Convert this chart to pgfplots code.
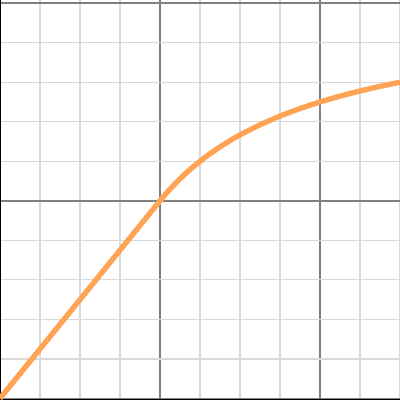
\documentclass[border=0pt]{standalone}
\usepackage{pgfplots}
\pgfplotsset{compat=1.18}
\definecolor{curve}{RGB}{255,163,84}
\begin{document}
\begin{tikzpicture}
\begin{axis}[
  scale only axis, width=10cm, height=10cm,
  xmin=-4, xmax=6, ymin=-5.04, ymax=5.08,
  axis x line*=bottom, axis y line*=left,
  axis line style={-, black, line width=1.4pt},
  xtick={-4,0,4}, minor xtick={-3,-2,-1,1,2,3,5,6},
  ytick={-5,0,5}, minor ytick={-4,-3,-2,-1,1,2,3,4},
  xticklabels={}, yticklabels={},
  tick label style={overlay},
  major tick length=0pt, minor tick length=0pt,
  grid=both,
  major grid style={color=black!50, line width=1.1pt},
  minor grid style={color=black!15, line width=0.9pt},
  clip=true,
]
\addplot[curve, line width=3.8pt, smooth, tension=0.3] coordinates {
(-4,-5) (-2,-2.5) (0,0) (0.25,0.2941) (0.5,0.5556) (0.75,0.7895) (1,1)
(1.25,1.1905) (1.5,1.3636) (1.75,1.5217) (2,1.6667) (2.5,1.9231) (3,2.1429)
(3.5,2.3333) (4,2.5) (4.5,2.6471) (5,2.7778) (5.5,2.8947) (6,3.0)
};
\end{axis}
\pgfresetboundingbox
\useasboundingbox (current axis.south west) rectangle (current axis.north east);
\end{tikzpicture}
\end{document}
